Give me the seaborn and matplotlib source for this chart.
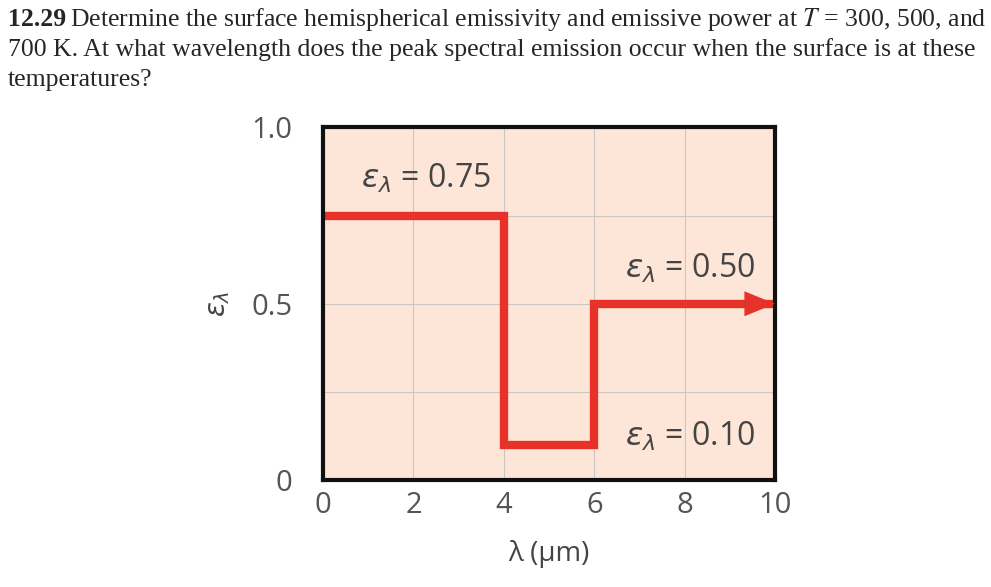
import numpy as np
import pandas as pd
import seaborn as sns
import matplotlib.pyplot as plt

# spectral emissivity, step function
wavelength = [0, 4, 6, 10]
emissivity = [0.75, 0.10, 0.50, 0.50]
band_labels = ["0.75", "0.50", "0.10"]
label_pos = [(2.27, 0.855), (8.12, 0.60), (8.12, 0.122)]
x_ticks = [0, 2, 4, 6, 8, 10]
y_ticks = [0, 0.25, 0.5, 0.75, 1.0]
y_ticklabels = ["0", "", "0.5", "", "1.0"]

sns.set_style("whitegrid", {"axes.facecolor": "#fde6d8", "grid.color": "#cdc6c0",
                            "axes.edgecolor": "#111111"})
plt.rcParams['font.family'] = ['Open Sans', 'DejaVu Sans']
plt.rcParams['mathtext.fontset'] = 'dejavusans'

fig = plt.figure(figsize=(9.91, 5.87), dpi=100)
ax = fig.add_axes([0.326, 0.182, 0.456, 0.601])

df = pd.DataFrame({"lam": wavelength, "eps": emissivity})
red = "#e63229"
sns.lineplot(x="lam", y="eps", data=df, drawstyle="steps-post", color=red,
             linewidth=6, ax=ax, solid_joinstyle="miter", solid_capstyle="butt")
ax.annotate("", xy=(10.0, 0.5), xytext=(9.0, 0.5),
            arrowprops=dict(arrowstyle="-|>,head_length=2.2,head_width=0.9",
                            color=red, lw=0, shrinkA=0, shrinkB=0),
            annotation_clip=False)

for txt, (x, y) in zip(band_labels, label_pos):
    ax.text(x, y, r"$\varepsilon_\lambda$ = " + txt, fontsize=23, color="#444444",
            ha="center", va="center")

ax.set_xlim(0, 10)
ax.set_ylim(0, 1.0)
ax.set_xticks(x_ticks)
ax.set_yticks(y_ticks)
ax.set_yticklabels(y_ticklabels)
ax.tick_params(axis="both", labelsize=21, colors="#555555", length=0)
ax.tick_params(axis="y", pad=22)
ax.tick_params(axis="x", pad=8)
ax.grid(True, linewidth=0.8)
for s in ax.spines.values():
    s.set_linewidth(3)
    s.set_visible(True)
ax.set_xlabel(r"λ (μm)", fontsize=20, color="#444444", labelpad=14)
ax.set_ylabel(r"$\varepsilon_\lambda$", fontsize=20, color="#444444", labelpad=14)

serif = "Liberation Serif"
fig.text(0.008, 0.955, "12.29", fontsize=18.5, fontweight="bold", family=serif)
fig.text(0.0705, 0.955, "Determine the surface hemispherical emissivity and emissive power at "
         r"$T$ = 300, 500, and", fontsize=18.5, family=serif, math_fontfamily="stix")
fig.text(0.008, 0.904, "700 K. At what wavelength does the peak spectral emission occur when the surface is at these",
         fontsize=18.5, family=serif)
fig.text(0.008, 0.853, "temperatures?", fontsize=18.5, family=serif)

fig.savefig("out.png", dpi=100)
